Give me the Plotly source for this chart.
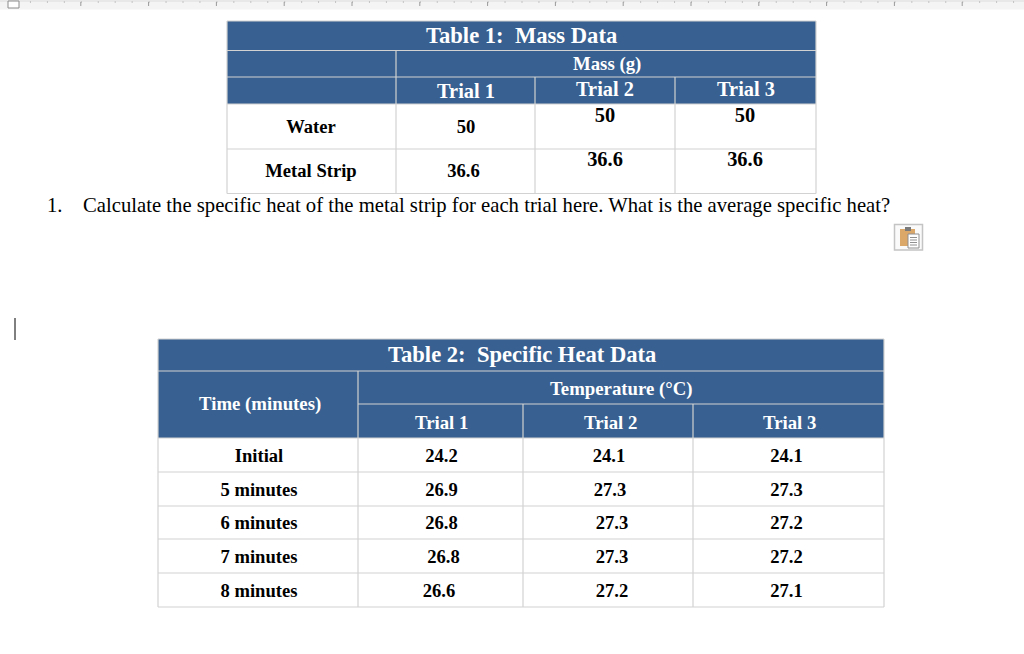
import plotly.graph_objects as go

# table 1 contents
mass_title = "Table 1:  Mass Data"
mass_header = "Mass (g)"
mass_trials = ["Trial 1", "Trial 2", "Trial 3"]
mass_rows = ["Water", "Metal Strip"]
water_mass = ["50", "50", "50"]
strip_mass = ["36.6", "36.6", "36.6"]

# table 2 contents
heat_title = "Table 2:  Specific Heat Data"
heat_header = "Temperature (°C)"
time_header = "Time (minutes)"
heat_trials = ["Trial 1", "Trial 2", "Trial 3"]
heat_rows = ["Initial", "5 minutes", "6 minutes", "7 minutes", "8 minutes"]
trial1_temp = ["24.2", "26.9", "26.8", "26.8", "26.6"]
trial2_temp = ["24.1", "27.3", "27.3", "27.3", "27.2"]
trial3_temp = ["24.1", "27.3", "27.2", "27.2", "27.1"]

question = "Calculate the specific heat of the metal strip for each trial here. What is the average specific heat?"

# grid lines, page pixels
t1_x = [227, 396, 535, 675, 816]
t1_y = [21, 50.5, 77, 104, 149, 193.5]
t2_x = [158, 358, 523, 693, 884]
t2_y = [339, 371, 404, 438, 472, 506, 539, 573, 607]

BLUE = "#386090"
GRID = "#d2d2d2"
SERIF = "Liberation Serif"

fig = go.Figure()
shapes = []
notes = []


def rect(x0, y0, x1, y1, fill=None, line=None, width=1):
    shapes.append(dict(type="rect", x0=x0, y0=y0, x1=x1, y1=y1, xref="x", yref="y",
                       fillcolor=fill or "rgba(0,0,0,0)",
                       line=dict(color=line or "rgba(0,0,0,0)", width=width if line else 0)))


def seg(x0, y0, x1, y1, color=GRID, width=1.2):
    shapes.append(dict(type="line", x0=x0, y0=y0, x1=x1, y1=y1, xref="x", yref="y",
                       line=dict(color=color, width=width)))


def label(x, y, text, size, color="#000000", bold=True):
    notes.append(dict(x=x, y=y, xref="x", yref="y", text="<b>%s</b>" % text if bold else text,
                      showarrow=False, xanchor="center", yanchor="middle",
                      font=dict(family=SERIF, size=size, color=color)))


def cells(xs, ys, texts, size=18.6):
    fig.add_trace(go.Scatter(x=xs, y=ys, mode="text", text=["<b>%s</b>" % t for t in texts],
                             textposition="middle center", hoverinfo="skip", showlegend=False,
                             textfont=dict(family=SERIF, size=size, color="#000000")))


# ruler along the top
rect(0, 0, 1024, 9.5, fill="#f4f4f4")
seg(0, 1, 1024, 1, color="#dcdcdc", width=1)
for i in range(60):
    seg(13.5 + i * 16.95, 1, 13.5 + i * 16.95, 3, color="#c4c4c4", width=1)
for i in range(15):
    seg(13 + i * 67.8, 2, 13 + i * 67.8, 6, color="#9a9a9a", width=1)
rect(8, 1, 19, 8, fill="#ffffff", line="#8c8c8c", width=1)

# table 1
rect(t1_x[0], t1_y[0], t1_x[-1], t1_y[3], fill=BLUE)
for y in t1_y:
    seg(t1_x[0], y, t1_x[-1], y)
seg(t1_x[0], t1_y[0], t1_x[0], t1_y[-1])
seg(t1_x[-1], t1_y[0], t1_x[-1], t1_y[-1])
seg(t1_x[1], t1_y[1], t1_x[1], t1_y[-1])
for x in t1_x[2:4]:
    seg(x, t1_y[2], x, t1_y[-1])

label(521.5, 35, mass_title, 22.6, "#ffffff")
label(606.5, 64, mass_header, 18.8, "#ffffff")
for x, y, t in zip([466, 605, 745.5], [90.5, 88.5, 88.5], mass_trials):
    label(x, y, t, 20.4, "#ffffff")
cells([311, 311], [128, 172], mass_rows)
cells([466], [128], water_mass[:1])
cells([463.5], [172], strip_mass[:1])
cells([605, 745], [117, 117], water_mass[1:], size=20.4)
cells([605, 745], [161, 161], strip_mass[1:], size=20.4)

# question line
label(55, 205, "1.", 20.7, bold=False)
label(486, 205, question, 20.7, bold=False)

# clipboard button
rect(894.5, 224.5, 922.5, 250, fill="#fafafa", line="#c4c4c4", width=1.5)
rect(900, 229, 915, 246, fill="#dba869")
rect(905, 227, 911, 231, fill="#7a7a7a")
rect(908, 234, 919, 248, fill="#ffffff", line="#8f8f8f", width=1)
for y in [237.5, 240, 242.5, 245]:
    seg(910, y, 917, y, color="#909090", width=1)

# text cursor
seg(15, 318, 15, 340, color="#000000", width=1)

# table 2
rect(t2_x[0], t2_y[0], t2_x[-1], t2_y[3], fill=BLUE)
for y in [t2_y[0], t2_y[1]] + t2_y[3:]:
    seg(t2_x[0], y, t2_x[-1], y)
seg(t2_x[1], t2_y[2], t2_x[-1], t2_y[2])
seg(t2_x[0], t2_y[0], t2_x[0], t2_y[-1])
seg(t2_x[-1], t2_y[0], t2_x[-1], t2_y[-1])
seg(t2_x[1], t2_y[1], t2_x[1], t2_y[-1])
for x in t2_x[2:4]:
    seg(x, t2_y[2], x, t2_y[-1])

label(522, 354.5, heat_title, 22.6, "#ffffff")
label(621.5, 388.5, heat_header, 18.8, "#ffffff")
label(259.5, 404, time_header, 18.8, "#ffffff")
for x, t in zip([441.5, 610, 789], heat_trials):
    label(x, 422, t, 18.8, "#ffffff")

row_y = [457.5, 491.5, 524.5, 558, 592]
cells([259] * 5, row_y, heat_rows)
cells([441.5, 441.5, 441.5, 443.5, 439], row_y, trial1_temp)
cells([609, 610, 612, 612, 612], row_y, trial2_temp)
cells([786.5] * 5, row_y, trial3_temp)

fig.update_layout(
    width=1024,
    height=654,
    margin=dict(l=0, r=0, t=0, b=0),
    paper_bgcolor="#ffffff",
    plot_bgcolor="#ffffff",
    showlegend=False,
    shapes=shapes,
    annotations=notes,
    xaxis=dict(range=[0, 1024], visible=False, fixedrange=True),
    yaxis=dict(range=[654, 0], visible=False, fixedrange=True),
)

fig.write_html("out.html", config=dict(displayModeBar=False), post_script="document.body.style.margin='0';")
